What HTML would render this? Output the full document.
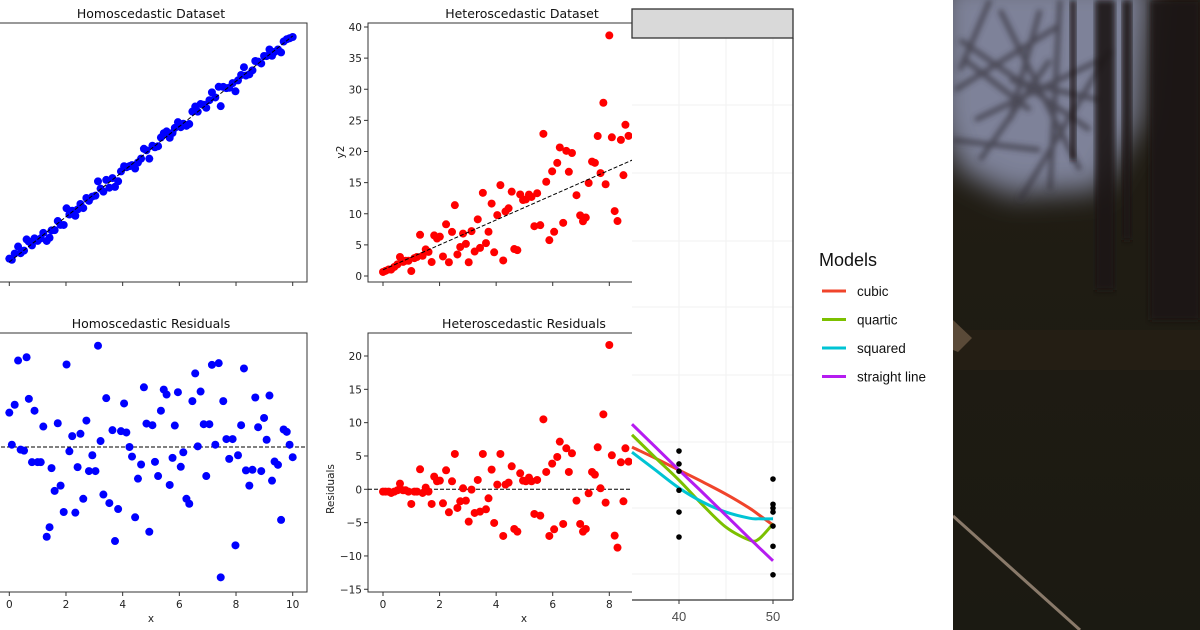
<!DOCTYPE html>
<html><head><meta charset="utf-8"><style>
html,body{margin:0;padding:0;background:#fff;width:1200px;height:630px;overflow:hidden}
svg{display:block;font-family:"DejaVu Sans","Liberation Sans",sans-serif}
</style></head><body>
<svg id="s" width="1200" height="630" viewBox="0 0 1200 630" xmlns="http://www.w3.org/2000/svg">
<defs>
<clipPath id="cTL"><rect x="-5" y="23" width="312" height="259"/></clipPath>
<clipPath id="cTR"><rect x="368" y="23" width="264" height="259"/></clipPath>
<clipPath id="cBL"><rect x="-5" y="333" width="312" height="259"/></clipPath>
<clipPath id="cBR"><rect x="368" y="333" width="264" height="259"/></clipPath>
<clipPath id="cPh"><rect x="953" y="0" width="247" height="630"/></clipPath>
<filter id="blur" x="-0.2" y="-0.2" width="1.4" height="1.4"><feGaussianBlur stdDeviation="14"/></filter>
<filter id="blur2"><feGaussianBlur stdDeviation="3"/></filter>
<linearGradient id="ground" x1="0" y1="0" x2="0" y2="1">
<stop offset="0" stop-color="#221d14"/><stop offset="1" stop-color="#1b1a12"/></linearGradient>
</defs>
<g id="root"></g>
</svg>
<script>
// Homoscedastic residual data (x, residual)
const homoX=[0.00,0.09,0.19,0.31,0.40,0.52,0.61,0.69,0.80,0.89,1.00,1.11,1.20,1.32,1.42,1.49,1.60,1.71,1.81,1.92,2.02,2.12,2.22,2.33,2.41,2.51,2.61,2.72,2.81,2.93,3.04,3.13,3.22,3.32,3.42,3.53,3.64,3.73,3.84,3.94,4.05,4.13,4.24,4.33,4.44,4.54,4.65,4.75,4.84,4.94,5.05,5.14,5.25,5.35,5.45,5.55,5.66,5.76,5.84,5.95,6.05,6.14,6.25,6.35,6.46,6.56,6.65,6.75,6.86,6.95,7.06,7.15,7.27,7.39,7.46,7.55,7.66,7.76,7.88,7.98,8.07,8.18,8.28,8.35,8.47,8.58,8.68,8.78,8.89,8.99,9.08,9.18,9.27,9.36,9.48,9.59,9.68,9.79,9.89,10.00];
const homoR=[1.04,0.07,1.28,2.62,-0.08,-0.11,2.72,1.46,-0.46,1.10,-0.46,-0.46,0.62,-2.72,-2.43,-0.64,-1.33,0.72,-1.17,-1.97,2.50,-0.13,0.33,-1.99,-0.61,0.40,-1.57,0.80,-0.73,-0.25,-0.73,3.07,0.18,-1.44,1.48,-1.70,0.51,-2.85,-1.88,0.48,1.32,0.44,0.00,-0.29,-2.13,-0.96,-0.53,1.81,0.71,-2.57,0.66,-0.45,-0.88,1.10,1.74,1.59,-1.15,-0.33,0.65,1.66,-0.60,-0.16,-1.57,-1.72,1.39,2.23,0.02,1.68,0.69,-0.88,0.69,2.49,0.07,2.54,-3.95,1.39,0.24,-0.36,0.24,-2.98,-0.25,0.66,2.38,-0.71,-1.17,-0.69,1.50,0.60,-0.73,0.88,0.22,1.56,-1.02,-0.44,-0.54,-2.21,0.53,0.46,0.07,-0.31];
const homoFit=[3,7]; // intercept, slope
// Heteroscedastic residual data
const hetX=[0.00,0.09,0.20,0.29,0.40,0.51,0.60,0.71,0.80,0.90,1.00,1.11,1.20,1.31,1.40,1.51,1.61,1.72,1.81,1.91,2.01,2.12,2.23,2.33,2.44,2.54,2.63,2.73,2.83,2.93,3.03,3.13,3.24,3.35,3.43,3.53,3.64,3.73,3.84,3.93,4.04,4.15,4.25,4.33,4.44,4.55,4.64,4.75,4.85,4.95,5.05,5.16,5.25,5.35,5.45,5.56,5.67,5.77,5.88,5.98,6.05,6.16,6.25,6.37,6.48,6.57,6.68,6.84,6.97,7.07,7.17,7.27,7.39,7.49,7.59,7.69,7.79,7.87,8.00,8.09,8.19,8.29,8.41,8.50,8.57,8.68];
const hetR=[-0.35,-0.35,-0.35,-0.55,-0.35,-0.15,0.85,-0.15,-0.15,-0.35,-2.2,-0.35,-0.35,3.0,-0.55,0.25,-0.35,-2.2,1.9,1.2,1.3,-2.1,2.85,-3.45,1.2,5.3,-2.8,-1.8,0.15,-1.7,-4.85,-0.05,-3.55,1.4,-3.35,5.3,-3.0,-1.35,2.95,-5.05,0.7,5.3,-7.0,0.7,1.0,3.45,-5.95,-6.35,2.4,1.3,1.2,1.75,1.2,-3.7,1.4,-3.95,10.5,2.6,-7.0,3.85,-6.0,4.85,7.15,-5.2,6.15,2.6,5.4,-1.7,-5.2,-6.35,-5.95,-0.6,2.6,2.2,6.3,0.15,11.25,-2.0,21.65,5.1,-6.95,-8.75,4.05,-1.8,6.15,4.15];
const hetFit=[1,2];
const y2Ticks=[0,5,10,15,20,25,30,35,40];
const resTicks=[20,15,10,5,0,-5,-10,-15];
const xTicks=[0,2,4,6,8,10];
// ggplot models panel
const modelNames=["cubic","quartic","squared","straight line"];
const modelColors=["#f0442b","#7cc000","#00c4d4","#b51cf0"];
const modelX=[35,37.5,40,42.5,45,47.5,48.5,50];
const cubicY=[27.3,25.3,23.2,21.1,18.9,16.4,15.2,13.4];
const quarticY=[29.5,25.4,21.4,17.0,13.0,10.7,10.9,13.6];
const squaredY=[26.4,23.2,20.0,17.5,15.7,14.6,14.5,14.5];
const lineY=[31.4,27.3,23.2,19.2,15.1,11.0,9.4,7.0];
const ptX=[40,40,40,40,40,40,50,50,50,50,50,50,50];
const ptY=[26.6,24.3,23.0,19.6,15.7,11.25,21.6,17.1,16.4,15.7,13.2,9.6,4.5];
const ggXTicks=[40,50];

const NS="http://www.w3.org/2000/svg";
const root=document.getElementById('root');
function mk(tag,attrs,parent,text){const e=document.createElementNS(NS,tag);for(const k in attrs)e.setAttribute(k,attrs[k]);if(text!==undefined)e.textContent=text;(parent||root).appendChild(e);return e;}
const lin=(d0,d1,r0,r1)=>v=>r0+(v-d0)*(r1-r0)/(d1-d0);

const xL=lin(0,10,9.3,292.7), xR=lin(0,8,383,609.3);
const yTL=lin(3,73,262,36);
const yTR=lin(0,40,276,27);
const yBL=lin(0,1,447,414);
const yBR=lin(0,20,489.3,356);

function title(x,y,t,name){const e=mk('text',{x:x,y:y,'font-size':'12.5','text-anchor':'middle',fill:'#111'},root,t);}
function box(x,y,w,h,name){const e=mk('rect',{x:x,y:y,width:w,height:h,fill:'none',stroke:'#333','stroke-width':1});}
function xticks(xs,yb,labels,name){const g=mk('g',{});
 xTicks.forEach(t=>{const X=xs(t);mk('line',{x1:X,x2:X,y1:yb,y2:yb+4,stroke:'#333'},g);if(labels){const e=mk('text',{x:X,y:yb+16,'font-size':'10.5','text-anchor':'middle',fill:'#222'},g,String(t));}});}
function yticks(ys,xl,ticks,name){const g=mk('g',{});
 ticks.forEach(t=>{const Y=ys(t);mk('line',{x1:xl-4,x2:xl,y1:Y,y2:Y,stroke:'#333'},g);const e=mk('text',{x:xl-6,y:Y+4,'font-size':'10.5','text-anchor':'end',fill:'#222'},g,t<0?'\u2212'+Math.abs(t):String(t));});}
function dots(xs,ys,X,Y,col,clip,name){const g=mk('g',{'clip-path':'url(#'+clip+')'});
 X.forEach((v,i)=>{const c=mk('circle',{cx:xs(v),cy:ys(Y[i]),r:4,fill:col},g);});}
function dash(x1,y1,x2,y2,clip,name){const e=mk('line',{x1:x1,y1:y1,x2:x2,y2:y2,stroke:'#000','stroke-dasharray':'4,2','stroke-width':1,'clip-path':'url(#'+clip+')'});}

title(151,18,'Homoscedastic Dataset','homo-dataset-title');
box(-5,23,312,259,'homo-dataset-axes');
xticks(xL,282,false,'homo-dataset-x-ticks');
dots(xL,yTL,homoX,homoX.map((x,i)=>homoFit[0]+homoFit[1]*x+homoR[i]),'#0000ff','cTL','homo-dataset-points');
dash(xL(0),yTL(homoFit[0]),xL(10),yTL(homoFit[0]+homoFit[1]*10),'cTL','homo-fit-line');

title(522,18,'Heteroscedastic Dataset','hetero-dataset-title');
box(368,23,300,259,'hetero-dataset-axes');
xticks(xR,282,false,'hetero-dataset-x-ticks');
yticks(yTR,368,y2Ticks,'hetero-dataset-y-ticks');
{const e=mk('text',{x:344,y:152,'font-size':'10.5','text-anchor':'middle',fill:'#222',transform:'rotate(-90 344 152)'},root,'y2');}
dots(xR,yTR,hetX,hetX.map((x,i)=>hetFit[0]+hetFit[1]*x+hetR[i]),'#ff0000','cTR','hetero-dataset-points');
dash(xR(0),yTR(hetFit[0]),xR(10),yTR(hetFit[0]+hetFit[1]*10),'cTR','hetero-fit-line');

title(151,328,'Homoscedastic Residuals','homo-residuals-title');
box(-5,333,312,259,'homo-residuals-axes');
xticks(xL,592,true,'homo-residuals-x-ticks');
{const e=mk('text',{x:151,y:622,'font-size':'10.5','text-anchor':'middle',fill:'#222'},root,'x');}
dash(-5,yBL(0),307,yBL(0),'cBL','homo-zero-line');
dots(xL,yBL,homoX,homoR,'#0000ff','cBL','homo-residual-points');

title(524,328,'Heteroscedastic Residuals','hetero-residuals-title');
box(368,333,300,259,'hetero-residuals-axes');
xticks(xR,592,true,'hetero-residuals-x-ticks');
yticks(yBR,368,resTicks,'hetero-residuals-y-ticks');
{const e=mk('text',{x:334,y:489,'font-size':'10.5','text-anchor':'middle',fill:'#222',transform:'rotate(-90 334 489)'},root,'Residuals');}
{const e=mk('text',{x:524,y:622,'font-size':'10.5','text-anchor':'middle',fill:'#222'},root,'x');}
dash(368,yBR(0),632,yBR(0),'cBR','hetero-zero-line');
dots(xR,yBR,hetX,hetR,'#ff0000','cBR','hetero-residual-points');

// ggplot panel
const gx=lin(40,50,679,773), gy=lin(0,100,600,40);
const gg=mk('g',{});
mk('rect',{x:632,y:0,width:321,height:630,fill:'#fff'},gg);
[173,241,307,375,442,508,574,105].forEach(y=>mk('line',{x1:632,x2:793,y1:y,y2:y,stroke:'#f2f2f2','stroke-width':1},gg));
[679,773,726].forEach(x=>mk('line',{x1:x,x2:x,y1:38,y2:600,stroke:'#f2f2f2','stroke-width':1},gg));
{const e=mk('rect',{x:632,y:9,width:161,height:29,fill:'#d9d9d9',stroke:'#333','stroke-width':1.3},gg);}
mk('line',{x1:793,x2:793,y1:38,y2:600,stroke:'#333','stroke-width':1.3},gg);
mk('line',{x1:632,x2:793,y1:600,y2:600,stroke:'#333','stroke-width':1.3},gg);
ggXTicks.forEach(t=>{mk('line',{x1:gx(t),x2:gx(t),y1:600,y2:604,stroke:'#333'},gg);const e=mk('text',{x:gx(t),y:621,'font-size':'13','text-anchor':'middle',fill:'#4d4d4d','font-family':'Liberation Sans, sans-serif'},gg,String(t));});
function smooth(ys){const P=ys.map((v,i)=>[gx(modelX[i]),gy(v)]);let d='M'+P[0][0].toFixed(1)+','+P[0][1].toFixed(1);
 for(let i=0;i<P.length-1;i++){const p0=P[Math.max(0,i-1)],p1=P[i],p2=P[i+1],p3=P[Math.min(P.length-1,i+2)];
  const c1=[p1[0]+(p2[0]-p0[0])/6,p1[1]+(p2[1]-p0[1])/6],c2=[p2[0]-(p3[0]-p1[0])/6,p2[1]-(p3[1]-p1[1])/6];
  d+='C'+c1[0].toFixed(1)+','+c1[1].toFixed(1)+' '+c2[0].toFixed(1)+','+c2[1].toFixed(1)+' '+p2[0].toFixed(1)+','+p2[1].toFixed(1);}
 return d;}
[cubicY,quarticY,squaredY,lineY].forEach((ys,k)=>{
 const p=mk('path',{d:smooth(ys),fill:'none',stroke:modelColors[k],'stroke-width':3,'stroke-linejoin':'round'},gg);
 
 
});
ptX.forEach((x,i)=>{const c=mk('circle',{cx:gx(x),cy:gy(ptY[i]),r:2.8,fill:'#000'},gg);});
const lg=mk('g',{'font-family':'Liberation Sans, sans-serif'});
{const e=mk('text',{x:819,y:266,'font-size':'18',fill:'#111'},lg,'Models');}
modelNames.forEach((n,k)=>{const y=291+k*28.5;
 const ln=mk('line',{x1:822,x2:846,y1:y,y2:y,stroke:modelColors[k],'stroke-width':3},lg);
 const e=mk('text',{x:857,y:y+5,'font-size':'13.5',fill:'#111'},lg,n);});

// photo
const ph=mk('g',{'clip-path':'url(#cPh)'});
mk('rect',{x:953,y:0,width:247,height:630,fill:'url(#ground)'},ph);
mk('path',{d:'M940,-20 L1150,-20 L1140,120 L1100,190 L1010,195 L960,170 L940,120 Z',fill:'#7e8299',filter:'url(#blur)'},ph);
const br=mk('g',{stroke:'#35323a',opacity:0.7,filter:'url(#blur2)'},ph);
[[960,40,1090,130],[975,120,1100,60],[1000,10,1080,170],[955,90,1060,25],[1020,200,1110,50],[980,160,1050,60],[1040,10,1010,120],[965,60,1030,110],[953,140,1040,150],[1060,0,1050,190],[990,0,960,70],[1010,80,1100,100]].forEach(l=>mk('line',{x1:l[0],y1:l[1],x2:l[2],y2:l[3],'stroke-width':5},br));
[[1095,0,20,290],[1122,0,10,240],[1150,0,50,320],[1070,0,6,160]].forEach(r=>mk('rect',{x:r[0],y:r[1],width:r[2],height:r[3],fill:'#1c1914',opacity:0.9,filter:'url(#blur2)'},ph));
mk('rect',{x:953,y:330,width:247,height:40,fill:'#261f15',opacity:0.8},ph);
mk('line',{x1:953,y1:516,x2:1080,y2:630,stroke:'#8a7a6a','stroke-width':3},ph);
mk('polygon',{points:'953,320 972,338 958,352 953,350',fill:'#5a4a38'},ph);
</script>
</body></html>
